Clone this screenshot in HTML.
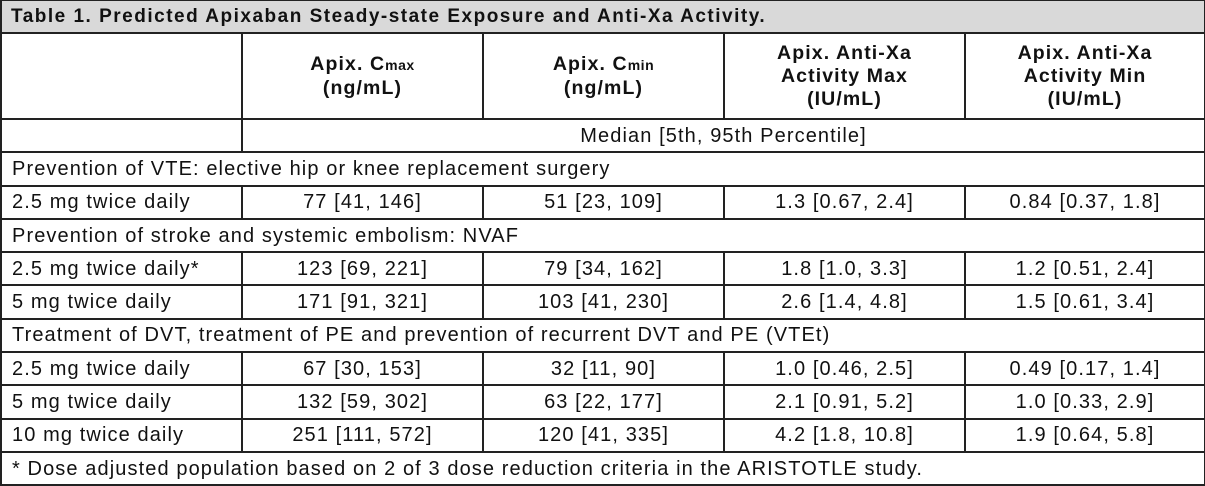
<!DOCTYPE html>
<html><head><meta charset="utf-8"><style>
html,body{margin:0;padding:0;background:#fff;}
body{width:1205px;height:486px;overflow:hidden;font-family:"Liberation Sans",Arial,sans-serif;color:#111;position:relative;}
table{border-collapse:collapse;table-layout:fixed;width:1204px;position:absolute;left:0;top:-1px;}
td{border:2px solid #222;padding:0;font-size:20px;letter-spacing:1.1px;text-align:center;height:31.3px;line-height:22px;white-space:nowrap;overflow:hidden;}
td.l{text-align:left;padding-left:10px;}
tr.t td{background:#d9d9d9;font-weight:bold;font-size:19px;letter-spacing:1.5px;text-align:left;padding-left:9px;height:31px;}
tr.h td{font-weight:bold;height:84px;font-size:19.5px;letter-spacing:1.1px;line-height:23px;}
sub{font-size:14px;vertical-align:baseline;letter-spacing:0.5px;}
</style></head><body>
<table>
<colgroup><col style="width:241px"><col style="width:241px"><col style="width:241px"><col style="width:241px"><col style="width:240px"></colgroup>
<tr class="t"><td colspan="5">Table 1. Predicted Apixaban Steady-state Exposure and Anti-Xa Activity.</td></tr>
<tr class="h"><td></td><td>Apix. C<sub>max</sub><br>(ng/mL)</td><td>Apix. C<sub>min</sub><br>(ng/mL)</td><td>Apix. Anti-Xa<br>Activity Max<br>(IU/mL)</td><td>Apix. Anti-Xa<br>Activity Min<br>(IU/mL)</td></tr>
<tr><td></td><td colspan="4">Median [5th, 95th Percentile]</td></tr>
<tr><td class="l" colspan="5">Prevention of VTE: elective hip or knee replacement surgery</td></tr>
<tr><td class="l">2.5 mg twice daily</td><td>77 [41, 146]</td><td>51 [23, 109]</td><td>1.3 [0.67, 2.4]</td><td>0.84 [0.37, 1.8]</td></tr>
<tr><td class="l" colspan="5">Prevention of stroke and systemic embolism: NVAF</td></tr>
<tr><td class="l">2.5 mg twice daily*</td><td>123 [69, 221]</td><td>79 [34, 162]</td><td>1.8 [1.0, 3.3]</td><td>1.2 [0.51, 2.4]</td></tr>
<tr><td class="l">5 mg twice daily</td><td>171 [91, 321]</td><td>103 [41, 230]</td><td>2.6 [1.4, 4.8]</td><td>1.5 [0.61, 3.4]</td></tr>
<tr><td class="l" colspan="5">Treatment of DVT, treatment of PE and prevention of recurrent DVT and PE (VTEt)</td></tr>
<tr><td class="l">2.5 mg twice daily</td><td>67 [30, 153]</td><td>32 [11, 90]</td><td>1.0 [0.46, 2.5]</td><td>0.49 [0.17, 1.4]</td></tr>
<tr><td class="l">5 mg twice daily</td><td>132 [59, 302]</td><td>63 [22, 177]</td><td>2.1 [0.91, 5.2]</td><td>1.0 [0.33, 2.9]</td></tr>
<tr><td class="l">10 mg twice daily</td><td>251 [111, 572]</td><td>120 [41, 335]</td><td>4.2 [1.8, 10.8]</td><td>1.9 [0.64, 5.8]</td></tr>
<tr><td class="l" colspan="5">* Dose adjusted population based on 2 of 3 dose reduction criteria in the ARISTOTLE study.</td></tr>
</table>
</body></html>
